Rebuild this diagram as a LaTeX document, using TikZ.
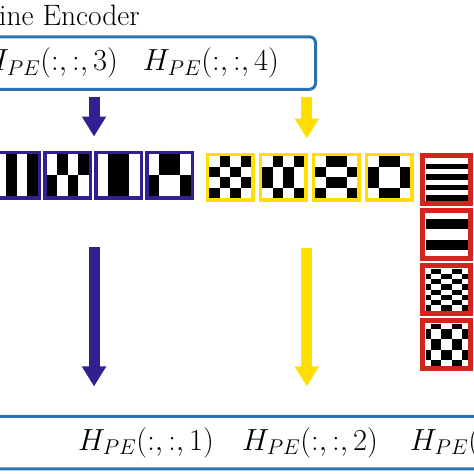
\RequirePackage{fix-cm}
\documentclass[tikz,border=0pt]{standalone}
\usetikzlibrary{arrows.meta,calc}
\definecolor{peblue}{RGB}{44,112,180}
\definecolor{navy}{RGB}{50,32,145}
\definecolor{gold}{RGB}{255,222,0}
\definecolor{crimson}{RGB}{212,36,30}

\tikzset{
  tilebase/.style={draw,minimum size=45.5pt,inner sep=0pt,line width=3.5pt},
  bluetile/.style={tilebase,draw=navy},
  yellowtile/.style={tilebase,draw=gold},
  redtile/.style={tilebase,draw=crimson,minimum size=47.5pt,line width=5pt},
  navyarrow/.style={draw=navy,line width=11pt,-{Triangle[width=23pt,length=20pt]}},
  goldarrow/.style={navyarrow,draw=gold},
  encbox/.style={draw=peblue,line width=3pt,rounded corners=6pt,inner sep=0pt,
    minimum height=52.5pt,font=\fontsize{30.5}{36}\selectfont},
}

% one binarised cosine pattern in a coloured frame
\newcommand{\petile}[6]{% name, centre, style, grid, kx, ky
  \begin{scope}[shift={(#2)}]
    \pgfmathsetmacro{\cellw}{42/#4}
    \foreach \cx in {1,...,#4}{
      \foreach \cy in {1,...,#4}{
        \pgfmathsetmacro{\cv}{cos(90*(2*\cx-1)*#5/#4)*cos(90*(2*\cy-1)*#6/#4)}
        \ifdim\cv pt<0pt
          \fill ({-21+(\cx-1)*\cellw},{-21+(\cy-1)*\cellw}) rectangle ++(\cellw,\cellw);
        \fi
      }
    }
  \end{scope}
  \node[#3] (#1) at (#2) {};
}

\begin{document}
\begin{tikzpicture}[x=1pt,y=-1pt]
\useasboundingbox (0,0) rectangle (474,474);
\clip (0,0) rectangle (474,474);

\node[anchor=base west,inner sep=0pt,font=\fontsize{29.5}{34}\selectfont] (title) at (-1,25) {ine Encoder};

% encoder boxes
\node[encbox,minimum width=370pt] (topbox) at (130.5,63)
  {$H_{PE}(:,:,3)$\hspace{25pt}$H_{PE}(:,:,4)$};
\node[encbox,minimum width=700pt] (botbox) at (312,442.7)
  {$H_{PE}(:,:,1)$\hspace{28pt}$H_{PE}(:,:,2)$\hspace{32pt}$H_{PE}(:,:,5)$};

% blue group
\petile{b1}{16.5,175}{bluetile}{4}{3}{0}
\petile{b2}{67.5,175}{bluetile}{4}{3}{1}
\petile{b3}{118.5,175}{bluetile}{4}{2}{0}
\petile{b4}{169.5,175}{bluetile}{4}{2}{1}
% yellow group
\petile{y1}{230,177}{yellowtile}{4}{3}{3}
\petile{y2}{283,177}{yellowtile}{4}{3}{2}
\petile{y3}{336,177}{yellowtile}{4}{2}{3}
\petile{y4}{389,177}{yellowtile}{4}{2}{2}
% red column
\petile{r1}{446.5,179.5}{redtile}{8}{0}{7}
\petile{r2}{446.5,234.5}{redtile}{8}{0}{4}
\petile{r3}{446.5,289.5}{redtile}{8}{4}{7}
\petile{r4}{446.5,344.5}{redtile}{8}{4}{4}

\coordinate (bluemid) at ($(b2)!0.52!(b3)$);
\coordinate (goldmid) at ($(y2)!0.45!(y3)$);

% arrows
\draw[navyarrow] ($(bluemid |- topbox.south)+(0,6)$) -- ($(bluemid |- b2.north)+(0,-14)$);
\draw[goldarrow] ($(goldmid |- topbox.south)+(0,6)$) -- ($(goldmid |- y2.north)+(0,-14)$);
\draw[navyarrow] ($(bluemid |- b2.south)+(0,47)$) -- ($(bluemid |- botbox.north)+(0,-28.5)$);
\draw[goldarrow] ($(goldmid |- y2.south)+(0,46)$) -- ($(goldmid |- botbox.north)+(0,-28.5)$);
\end{tikzpicture}
\end{document}
